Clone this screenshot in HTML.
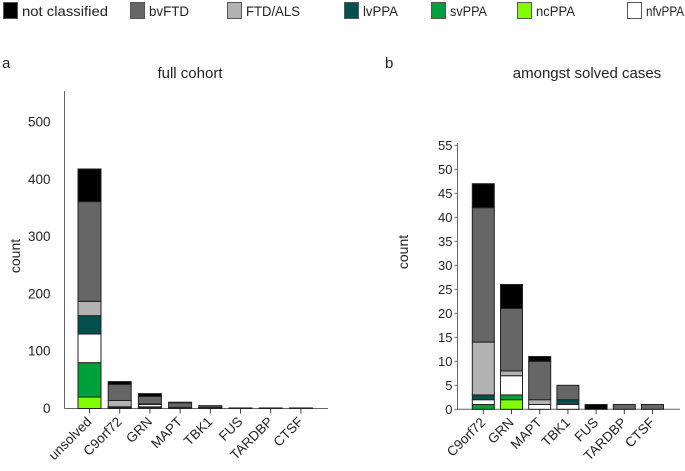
<!DOCTYPE html>
<html><head><meta charset="utf-8"><style>
body{margin:0;background:#fff;width:685px;height:466px;overflow:hidden;font-family:"Liberation Sans",sans-serif}
svg text{font-family:"Liberation Sans",sans-serif;fill:#222}
</style></head><body>
<svg id="c" width="685" height="466"></svg>
<script>
const legendNames=["not classified","bvFTD","FTD/ALS","lvPPA","svPPA","ncPPA","nfvPPA"];
const legendX=[3,130,227,344,431,517,627];
const legendW=[86,40,54,35,37,39,38];
// stack order bottom->top
const stackKeys=["ncPPA","svPPA","nfvPPA","lvPPA","FTD/ALS","bvFTD","not classified"];
const colors={"not classified":"#000000","bvFTD":"#666666","FTD/ALS":"#b3b3b3","lvPPA":"#03504f","svPPA":"#00a13a","ncPPA":"#7fff00","nfvPPA":"#ffffff"};
const catsA=["unsolved","C9orf72","GRN","MAPT","TBK1","FUS","TARDBP","CTSF"];
const valsA=[
 [20,60,50,32,25,174,57],
 [0,1,1,1,11,28,5],
 [2,1,4,0,1,13,5],
 [0,0,1,0,1,8,1],
 [0,0,1,1,0,3,0],
 [0,0,0,0,0,0,1],
 [0,0,0,0,0,1,0],
 [0,0,0,0,0,1,0]];
const ticksA=[0,100,200,300,400,500];
const catsB=["C9orf72","GRN","MAPT","TBK1","FUS","TARDBP","CTSF"];
const valsB=[
 [0,1,1,1,11,28,5],
 [2,1,4,0,1,13,5],
 [0,0,1,0,1,8,1],
 [0,0,1,1,0,3,0],
 [0,0,0,0,0,0,1],
 [0,0,0,0,0,1,0],
 [0,0,0,0,0,1,0]];
const ticksB=[0,5,10,15,20,25,30,35,40,45,50,55];

const svg=document.getElementById('c');
const NS="http://www.w3.org/2000/svg";
function mk(t,a,txt){const e=document.createElementNS(NS,t);for(const k in a)e.setAttribute(k,a[k]);if(txt!==undefined)e.textContent=txt;svg.appendChild(e);return e;}

legendNames.forEach((n,i)=>{
 const r=mk('rect',{x:legendX[i]+0.5,y:2.5,width:14,height:16,fill:colors[n],stroke:'#555','stroke-width':1});
 
 
 const t=mk('text',{x:legendX[i]+19,y:16,'font-size':14,textLength:legendW[i],lengthAdjust:'spacingAndGlyphs'},n);
 
 
});

function panel(o){
 const y=v=>o.y0-v*o.ppu;
 const x=i=>o.bx0+i*o.step;
 const g=mk('line',{x1:o.ax,y1:o.y0,x2:o.ax,y2:o.top,stroke:'#666','stroke-width':1});
 
 
 const xa=mk('line',{x1:o.ax,y1:o.y0,x2:o.xend,y2:o.y0,stroke:'#666','stroke-width':1});
 
 
 o.ticks.forEach(t=>{
  if(o.id==='b') mk('line',{x1:o.ax-3,y1:y(t),x2:o.ax,y2:y(t),stroke:'#666'});
  const l=mk('text',{x:o.ax-(o.id==='a'?14:5),y:y(t)+4.5,'font-size':o.fs,'text-anchor':'end'},t);
  
  
 });
 o.cats.forEach((c,i)=>{
  const cx=x(i)+o.bw/2;
  mk('line',{x1:cx,y1:o.y0,x2:cx,y2:o.y0+5,stroke:'#444'});
  const l=mk('text',{x:cx+3,y:o.y0+14,'font-size':13.5,'text-anchor':'end',transform:`rotate(-45 ${cx+3} ${o.y0+14})`},c);
  
  
  let acc=0;
  o.vals[i].forEach((v,k)=>{
   if(v<=0)return;
   const r=mk('rect',{x:x(i),y:y(acc+v),width:o.bw,height:v*o.ppu,fill:colors[stackKeys[k]],stroke:'#222','stroke-width':1});
   
   
   acc+=v;
  });
 });
 const ti=mk('text',{x:o.tx,y:78,'font-size':15,'text-anchor':'middle'},o.title);
 
 
 const pl=mk('text',{x:o.lx,y:68,'font-size':15},o.id);
 
 
 const yl=mk('text',{x:o.ylx,y:o.yly,'font-size':14,'text-anchor':'middle',transform:`rotate(-90 ${o.ylx} ${o.yly})`},'count');
 
 
}
panel({id:'a',cats:catsA,vals:valsA,ticks:ticksA,y0:408.5,ppu:(408.5-122)/500,ax:64.5,top:91,xend:328,bx0:78,step:30.2,bw:23,fs:13.5,tx:190,title:'full cohort',lx:2,ylx:20,yly:256});
panel({id:'b',cats:catsB,vals:valsB,ticks:ticksB,y0:409.3,ppu:(409.3-145.3)/55,ax:457.5,top:143,xend:680,bx0:472.3,step:28.2,bw:22,fs:13,tx:587,title:'amongst solved cases',lx:385,ylx:408,yly:252});
</script>
</body></html>
